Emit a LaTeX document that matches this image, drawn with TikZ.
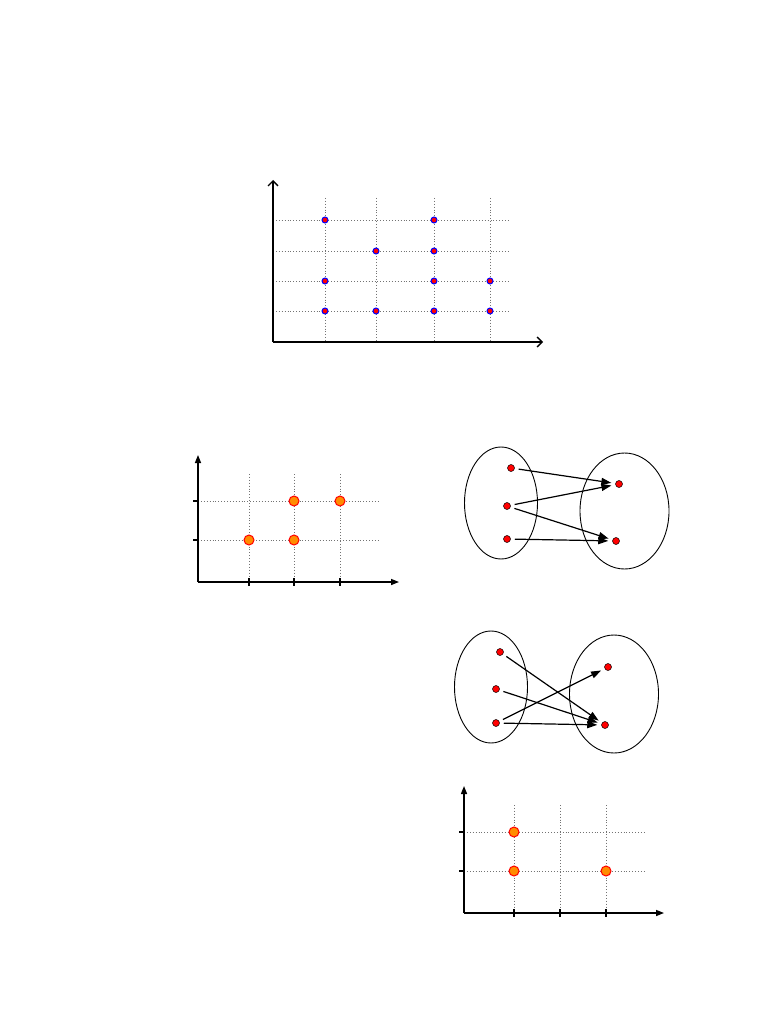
\documentclass[tikz,border=0pt]{standalone}
\usetikzlibrary{arrows.meta}
\begin{document}
\begin{tikzpicture}[x=1pt,y=-1pt,
  axis/.style={line width=1.4pt,black},
  axisopen/.style={axis,-{Straight Barb[length=5pt,width=10pt]}},
  axisfill/.style={axis,-{Triangle[length=8pt,width=6pt]}},
  grid/.style={gray!90!black,dotted,line width=0.9pt},
  tick/.style={line width=1.2pt,black},
  bdot/.style={circle,fill=red,draw=blue,line width=1pt,inner sep=0pt,minimum size=6pt},
  odot/.style={circle,fill=orange!90!yellow,draw=red,line width=1pt,inner sep=0pt,minimum size=10pt},
  rdot/.style={circle,fill=red,draw=black,line width=0.5pt,inner sep=0pt,minimum size=7pt},
  set/.style={draw=black,line width=0.9pt},
  map/.style={line width=1.2pt,-{Triangle[length=10pt,width=7pt]},shorten <=4pt,shorten >=4pt}]
\useasboundingbox (0,0) rectangle (768,1024);
\fill[white] (0,0) rectangle (768,1024);

% ---------- Graph 1 ----------
\coordinate (g1o) at (273,342);
\coordinate (g1y) at (273,180);
\coordinate (g1x) at (543,342);
\foreach \x in {325,376,434,490} \draw[grid] (\x,198) -- (\x,342);
\foreach \y in {220,251,281,311} \draw[grid] (273,\y) -- (510,\y);
\draw[axisopen] (g1o) -- (g1y);
\draw[axisopen] (g1o) -- (g1x);
\foreach \x/\y [count=\i] in {325/220,434/220,376/251,434/251,325/281,434/281,490/281,325/311,376/311,434/311,490/311}
  \node[bdot] (a\i) at (\x,\y) {};

% ---------- Graph 2 ----------
\coordinate (g2o) at (198,582);
\coordinate (g2y) at (198,455);
\coordinate (g2x) at (399,582);
\foreach \x in {249,294,340} {\draw[grid] (\x,474) -- (\x,582); \draw[tick] (\x,578) -- (\x,586);}
\foreach \y in {501,540} {\draw[grid] (198,\y) -- (379,\y); \draw[tick] (193,\y) -- (198,\y);}
\draw[axisfill] (g2o) -- (g2y);
\draw[axisfill] (g2o) -- (g2x);
\node[odot] (b1) at (294,501) {};
\node[odot] (b2) at (340,501) {};
\node[odot] (b3) at (249,540) {};
\node[odot] (b4) at (294,540) {};

% ---------- Mapping 1 ----------
\draw[set] (501,503) ellipse [x radius=36.5, y radius=56];
\draw[set] (624.5,511) ellipse [x radius=44.5, y radius=58];
\node[rdot] (p1) at (511,468) {};
\node[rdot] (p2) at (507,506) {};
\node[rdot] (p3) at (507,539) {};
\node[rdot] (q1) at (619,484) {};
\node[rdot] (q2) at (616,541) {};
\draw[map] (p1) -- (q1);
\draw[map] (p2) -- (q1);
\draw[map] (p2) -- (q2);
\draw[map] (p3) -- (q2);

% ---------- Mapping 2 ----------
\draw[set] (491,687) ellipse [x radius=36.5, y radius=56];
\draw[set] (614,694) ellipse [x radius=44.5, y radius=59];
\node[rdot] (r1) at (500,652) {};
\node[rdot] (r2) at (496,689) {};
\node[rdot] (r3) at (496,723) {};
\node[rdot] (s1) at (608,667) {};
\node[rdot] (s2) at (605,725) {};
\draw[map] (r1) -- (s2);
\draw[map] (r2) -- (s2);
\draw[map] (r3) -- (s1);
\draw[map] (r3) -- (s2);

% ---------- Graph 3 ----------
\coordinate (g3o) at (464,913);
\coordinate (g3y) at (464,786);
\coordinate (g3x) at (664,913);
\foreach \x in {514,560,606} {\draw[grid] (\x,805) -- (\x,913); \draw[tick] (\x,909) -- (\x,917);}
\foreach \y in {832,871} {\draw[grid] (464,\y) -- (645,\y); \draw[tick] (459,\y) -- (464,\y);}
\draw[axisfill] (g3o) -- (g3y);
\draw[axisfill] (g3o) -- (g3x);
\node[odot] (c1) at (514,832) {};
\node[odot] (c2) at (514,871) {};
\node[odot] (c3) at (606,871) {};
\end{tikzpicture}
\end{document}
